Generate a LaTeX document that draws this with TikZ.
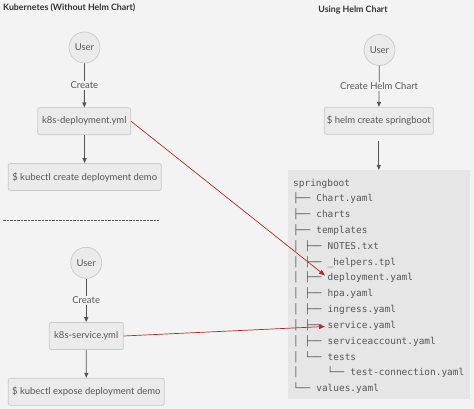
\documentclass[tikz,border=0pt]{standalone}
\usepackage{fontspec}
\setmainfont{Lato}
\newfontfamily\treefont{DejaVu Sans Mono}
\usetikzlibrary{arrows.meta}
\definecolor{bg}{HTML}{F3F3F3}
\definecolor{boxfill}{HTML}{EBEBEB}
\definecolor{boxline}{HTML}{CACACA}
\definecolor{txt}{HTML}{555555}
\definecolor{treefill}{HTML}{E6E6E6}
\definecolor{redline}{HTML}{B82828}
\begin{document}
\begin{tikzpicture}[x=1pt,y=-1pt,
  every node/.style={text=txt},
  title/.style={font=\bfseries\fontsize{8.8}{10}\selectfont, inner sep=0, text=black!80},
  user/.style={circle, draw=boxline, line width=0.7pt, fill=boxfill, minimum size=31pt, inner sep=0, font=\fontsize{9.5}{11}\selectfont},
  proc/.style={rectangle, rounded corners=2pt, draw=boxline, line width=0.7pt, fill=boxfill, minimum height=27pt, inner sep=0, font=\fontsize{9.5}{11}\selectfont},
  elabel/.style={fill=bg, inner sep=1pt, font=\fontsize{9.5}{11}\selectfont},
  flow/.style={draw=txt, line width=0.8pt, -{Triangle[length=5pt,width=4pt]}},
  link/.style={draw=redline, line width=0.7pt, -{Triangle[length=6pt,width=4.5pt]}},
  sepline/.style={draw=txt, line width=1.2pt, dash pattern=on 2.5pt off 1pt},
  tree/.style={inner sep=0, anchor=base west, font=\treefont\fontsize{9.45}{11}\selectfont},
]
\fill[bg] (0,0) rectangle (474,409);
\useasboundingbox (0,0) rectangle (474,409);

% titles
\node[title, anchor=west] (t1) at (3,8) {Kubernetes (Without Helm Chart)};
\node[title] (t2) at (353,10) {Using Helm Chart};

% left upper flow
\node[user] (u1) at (84.5,47.5) {User};
\node[proc, minimum width=93pt] (dep) at (84.3,121.3) {k8s-deployment.yml};
\node[proc, minimum width=153pt] (kc1) at (84.7,177) {\$ kubectl create deployment demo};

% separator
\coordinate (s1) at (3.3,220.7);
\coordinate (s2) at (159.3,220.7);
\draw[sepline] (s1) -- (s2);

% left lower flow
\node[user] (u2) at (86.2,262.8) {User};
\node[proc, minimum width=74pt] (svc) at (86.2,336) {k8s-service.yml};
\node[proc, minimum width=156pt] (kc2) at (86.3,391.7) {\$ kubectl expose deployment demo};

% helm flow
\node[user] (u3) at (379.5,50) {User};
\node[proc, minimum width=109pt] (helm) at (378.8,120.8) {\$ helm create springboot};
\node[fill=treefill, anchor=north west, minimum width=182pt, minimum height=229pt, inner sep=0] (treebox) at (288,170) {};

% tree
\node[tree] (n0) at (293,186) {springboot};
\foreach \i/\pre/\nm in {1/├──/Chart.yaml, 2/├──/charts, 3/├──/templates,
  4/│ ├──/NOTES.txt, 5/│ ├──/\_helpers.tpl, 6/│ ├──/deployment.yaml,
  7/│ ├──/hpa.yaml, 8/│ ├──/ingress.yaml, 9/│ ├──/service.yaml,
  10/│ ├──/serviceaccount.yaml, 11/│ └──/tests,
  12/│~~~~~└──/test-connection.yaml, 13/└──/values.yaml}
{
  \node[tree] (p\i) at (293,186+15.83*\i) {\pre~\kern0pt};
  \node[tree] (n\i) at (p\i.base east) {\nm};
}

% connectors
\draw[flow] (u1) -- node[elabel] {Create} (dep);
\draw[flow] (dep) -- (kc1);
\draw[flow] (u2) -- node[elabel] {Create} (svc);
\draw[flow] (svc) -- (kc2);
\draw[flow] (u3) -- node[elabel] {Create Helm Chart} (helm);
\draw[flow, shorten <=6pt] (helm.south) -- (helm.south |- treebox.north);

\coordinate (depin) at (325,275.5);
\coordinate (svcin) at (325,326.5);
\draw[link] (dep.east) -- (depin);
\draw[link] (svc.east) -- (svcin);
\end{tikzpicture}
\end{document}
